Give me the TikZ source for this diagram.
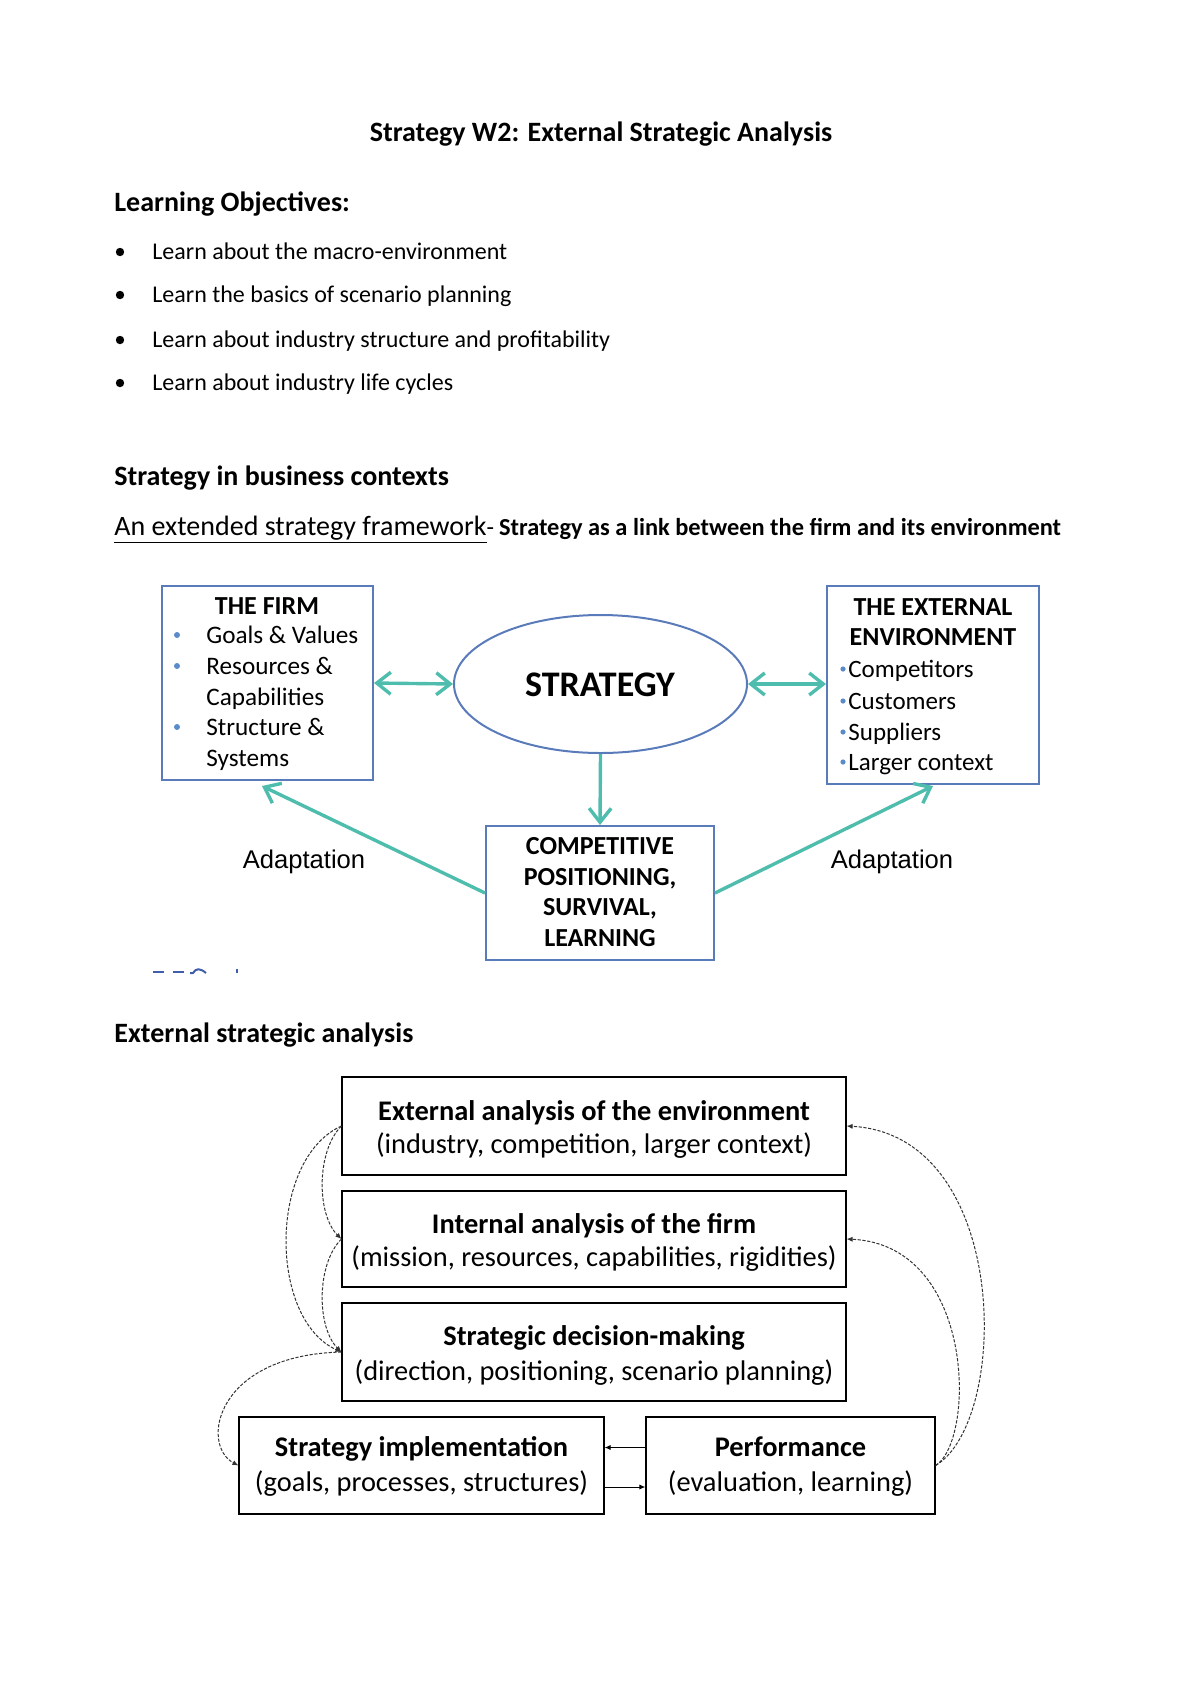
\documentclass[tikz,border=0pt]{standalone}
\usepackage{fontspec}
\setmainfont{Carlito}
\newfontfamily\arialf{Liberation Sans}
\usetikzlibrary{arrows.meta,shapes.geometric}
\definecolor{fwblue}{HTML}{5A7BBA}
\definecolor{fwteal}{HTML}{4FBDAD}
\definecolor{dotblue}{HTML}{5B8BC9}
\definecolor{artblue}{HTML}{3F5FAA}
\begin{document}
\begin{tikzpicture}[x=0.5pt,y=-0.5pt,
  txt/.style={inner sep=0pt, anchor=base},
  ltxt/.style={inner sep=0pt, anchor=base west},
  hb/.style={font=\bfseries\fontsize{14}{16}\selectfont},
  rr/.style={font=\fontsize{12}{14}\selectfont},
  fwhead/.style={font=\bfseries\fontsize{13}{15}\selectfont},
  fwitem/.style={font=\fontsize{12.6}{15}\selectfont},
  fwextitem/.style={font=\fontsize{12.5}{15}\selectfont},
  adapt/.style={font=\arialf\fontsize{12.8}{15}\selectfont},
  bb/.style={font=\bfseries\fontsize{14.2}{16}\selectfont},
  br/.style={font=\fontsize{14.2}{16}\selectfont},
  fwbox/.style={draw=fwblue, line width=1pt, inner sep=0pt},
  tealarr/.style={draw=fwteal, line width=1.7pt, -{Straight Barb[length=7pt,width=11pt,line width=1.7pt]}},
  tealdbl/.style={draw=fwteal, line width=1.7pt, {Straight Barb[length=7pt,width=11pt,line width=1.7pt]}-{Straight Barb[length=7pt,width=11pt,line width=1.7pt]}},
  bbox/.style={draw=black, line width=0.6pt, inner sep=0pt},
  solidarr/.style={draw=black, line width=0.5pt, -{Latex[length=3pt,width=2.6pt]}},
  dcurve/.style={draw=black!80, line width=0.5pt, dash pattern=on 1.6pt off 0.8pt, -{Latex[length=3pt,width=2.6pt]}}
]
\useasboundingbox (0,0) rectangle (1200,1698);

% ---------- header text ----------
\node[txt, hb] (title) at (601,141) {Strategy W2: External Strategic Analysis};
\node[ltxt, hb] (lo) at (114,211) {Learning Objectives:};
\fill (120,252) circle (2.1pt);
\fill (120,295) circle (2.1pt);
\fill (120,340) circle (2.1pt);
\fill (120,383) circle (2.1pt);
\node[ltxt, rr] (o1) at (152,259) {Learn about the macro-environment};
\node[ltxt, rr] (o2) at (152,302) {Learn the basics of scenario planning};
\node[ltxt, rr] (o3) at (152,347) {Learn about industry structure and profitability};
\node[ltxt, rr] (o4) at (152,390) {Learn about industry life cycles};
\node[ltxt, hb] (sbc) at (114,485) {Strategy in business contexts};
\node[ltxt] (ext) at (114,535) {{\fontsize{14}{16}\selectfont\underline{An extended strategy framework}}{\fontsize{12.2}{14}\selectfont-\hspace{2.5pt}\bfseries Strategy as a link between the firm and its environment}};

% ---------- framework ----------
\node[fwbox, minimum width=105.5pt, minimum height=97pt] (firm) at (267.5,683) {};
\node[fwbox, minimum width=106pt, minimum height=99pt] (env) at (933,685) {};
\node[fwbox, minimum width=114pt, minimum height=67pt] (comp) at (600,893) {};
\node[ellipse, draw=fwblue, line width=1pt, minimum width=146.5pt, minimum height=69pt, inner sep=0pt] (strat) at (600.5,684) {};

\node[txt, fwhead] (firmh) at (267,614) {THE FIRM};
\fill[dotblue] (177,635) circle (1.5pt);
\fill[dotblue] (177,666) circle (1.5pt);
\fill[dotblue] (177,727) circle (1.5pt);
\node[ltxt, fwitem] (f1) at (206,643) {Goals \& Values};
\node[ltxt, fwitem] (f2) at (206,674) {Resources \&};
\node[ltxt, fwitem] (f3) at (206,705) {Capabilities};
\node[ltxt, fwitem] (f4) at (206,735) {Structure \&};
\node[ltxt, fwitem] (f5) at (206,766) {Systems};

\node[txt, font=\bfseries\fontsize{18}{21}\selectfont] (stratt) at (600,696) {STRATEGY};

\node[txt, fwhead] (envh1) at (933,615) {THE EXTERNAL};
\node[txt, fwhead] (envh2) at (933,645) {ENVIRONMENT};
\fill[dotblue] (843,669) circle (1.3pt);
\fill[dotblue] (843,701) circle (1.3pt);
\fill[dotblue] (843,732) circle (1.3pt);
\fill[dotblue] (843,762) circle (1.3pt);
\node[ltxt, fwextitem] (e1) at (848,677) {Competitors};
\node[ltxt, fwextitem] (e2) at (848,709) {Customers};
\node[ltxt, fwextitem] (e3) at (848,740) {Suppliers};
\node[ltxt, fwextitem] (e4) at (848,770) {Larger context};

\node[txt, fwhead] (c1) at (600,854) {COMPETITIVE};
\node[txt, fwhead] (c2) at (600,885) {POSITIONING,};
\node[txt, fwhead] (c3) at (600,915) {SURVIVAL,};
\node[txt, fwhead] (c4) at (600,946) {LEARNING};

\node[txt, adapt] (adl) at (304,868) {Adaptation};
\node[txt, adapt] (adr) at (892,868) {Adaptation};

\draw[tealdbl] (firm.east) -- (strat.west);
\draw[tealdbl] (strat.east) -- (strat.east -| env.west);
\draw[tealarr] (strat.south) -- (comp.north);
\draw[tealarr] (comp.west) -- ([xshift=-2.75pt,yshift=-2.5pt]firm.south);
\draw[tealarr] (comp.east) -- ([yshift=-0.5pt]env.south);

% cropped-text remnants
\draw[artblue, line width=1pt] (153,972) -- (164,972);
\draw[artblue, line width=1pt] (173,972) -- (184,972);
\draw[artblue, line width=1pt] (190,973) -- (193,973) .. controls (196,968) and (200,968) .. (206,973);
\draw[artblue, line width=0.6pt] (237,969) -- (237,973);

% ---------- external strategic analysis ----------
\node[ltxt, hb] (esa) at (114,1042) {External strategic analysis};

\node[bbox, minimum width=252pt, minimum height=49pt] (b1) at (594,1126) {};
\node[bbox, minimum width=252pt, minimum height=48pt] (b2) at (594,1239) {};
\node[bbox, minimum width=252pt, minimum height=49pt] (b3) at (594,1352) {};
\node[bbox, minimum width=182.5pt, minimum height=48.5pt] (b4) at (421.5,1465.5) {};
\node[bbox, minimum width=144.5pt, minimum height=48.5pt] (b5) at (790.5,1465.5) {};

\node[txt, bb] (b1a) at (594,1120) {External analysis of the environment};
\node[txt, br] (b1b) at (594,1153) {(industry, competition, larger context)};
\node[txt, bb] (b2a) at (594,1233) {Internal analysis of the firm};
\node[txt, br] (b2b) at (594,1266) {(mission, resources, capabilities, rigidities)};
\node[txt, bb] (b3a) at (594,1345) {Strategic decision-making};
\node[txt, br] (b3b) at (594,1380) {(direction, positioning, scenario planning)};
\node[txt, bb] (b4a) at (421.5,1456) {Strategy implementation};
\node[txt, br] (b4b) at (421.5,1491) {(goals, processes, structures)};
\node[txt, bb] (b5a) at (790.5,1456) {Performance};
\node[txt, br] (b5b) at (790.5,1491) {(evaluation, learning)};

\draw[solidarr] ([yshift=9pt]b5.west) -- ([yshift=9pt]b4.east);
\draw[solidarr] ([yshift=-10.75pt]b4.east) -- ([yshift=-10.75pt]b5.west);

\draw[dcurve] (b1.west) .. controls +(-25,25) and +(-25,-25) .. (b2.west);
\draw[dcurve] (b1.west) .. controls +(-73,33) and +(-73,-33) .. (b3.west);
\draw[dcurve] (b2.west) .. controls +(-25,25) and +(-25,-25) .. (b3.west);
\draw[dcurve] (b3.west) .. controls (215,1355) and (200,1445) .. (b4.west);
\draw[dcurve] (b5.east) .. controls +(75,-45) and +(164,9) .. (b1.east);
\draw[dcurve] (b5.east) .. controls +(40,-25) and +(129,6) .. (b2.east);
\end{tikzpicture}
\end{document}
